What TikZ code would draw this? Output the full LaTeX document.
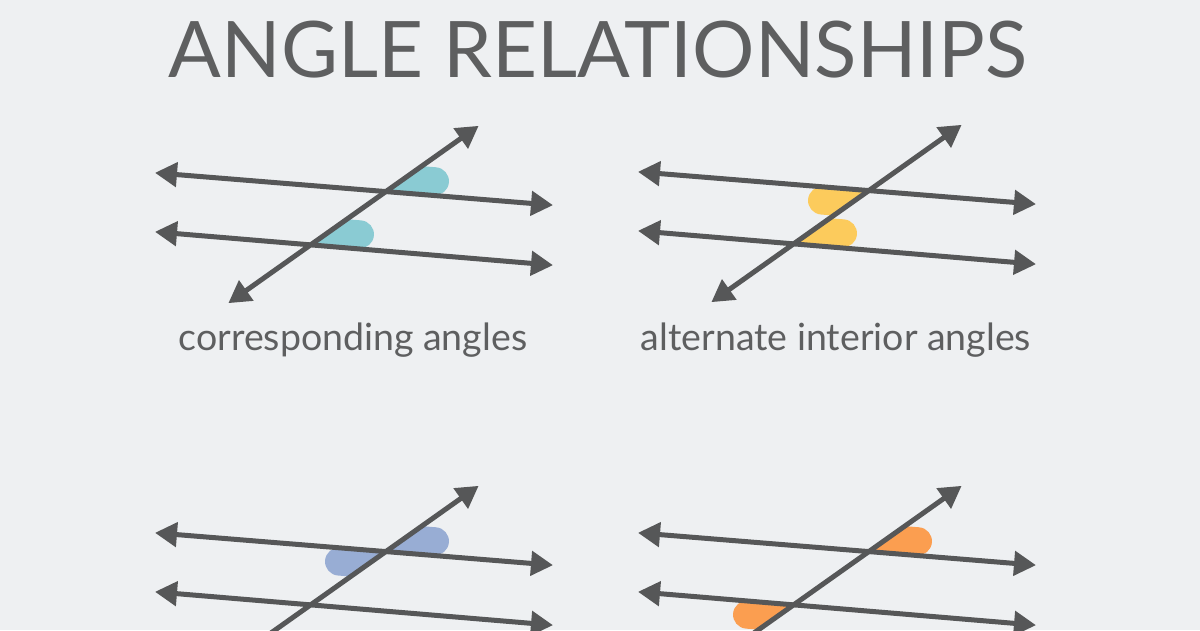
\documentclass[tikz,border=0pt]{standalone}
\usepackage{fontspec}
\setmainfont{Lato}
\usetikzlibrary{arrows.meta}
\definecolor{bg}{HTML}{EEF0F2}
\definecolor{ln}{HTML}{565758}
\definecolor{txt}{HTML}{5E5F60}
\definecolor{cyan}{HTML}{8ACBD3}
\definecolor{yel}{HTML}{FCCB5C}
\definecolor{blu}{HTML}{98ADD4}
\definecolor{ora}{HTML}{FB9E50}
\tikzset{
  ray/.style={draw=ln,line width=5pt,{Triangle[length=22pt,width=24pt]}-{Triangle[length=22pt,width=24pt]},shorten <=-2pt,shorten >=-2pt},
  lbl/.style={text=txt,font=\fontsize{37.5}{44}\selectfont,inner sep=0pt}
}
\newcommand\angl[3]{%
  \begin{scope}[shift={(#1)},rotate=#2]
  \clip (0,0)--(100,0)--(39.9:100)--cycle;
  \fill[#3] (-10,0)--(47,0) arc[start angle=-90,end angle=90,radius=14]--(-10,28)--cycle;
  \end{scope}}
% #1 name, #2 xshift, #3 yshift
\newcommand\diag[3]{%
  \begin{scope}[shift={(#2,#3)}]
  \coordinate (#1la) at (157,457); \coordinate (#1lb) at (551,425);
  \coordinate (#1ma) at (157,398); \coordinate (#1mb) at (551,365);
  \coordinate (#1ta) at (230,328); \coordinate (#1tb) at (477,503);
  \coordinate (#1i) at (387,438.6); \coordinate (#1j) at (312,385.5);
  \end{scope}}
\begin{document}
\begin{tikzpicture}[x=1pt,y=1pt]
\clip (0,0) rectangle (1200,630);
\fill[bg] (0,0) rectangle (1200,630);
\node[text=txt,font=\fontsize{78}{90}\selectfont,inner sep=0pt] (title) at (598,580) {ANGLE RELATIONSHIPS};
\diag{a}{0}{0}
\diag{b}{483}{1}
\diag{c}{0}{-360}
\diag{d}{483}{-360}
% angles
\angl{ai}{-4.64}{cyan}\angl{aj}{-4.64}{cyan}
\angl{bi}{175.36}{yel}\angl{bj}{-4.64}{yel}
\angl{ci}{-4.64}{blu}\angl{ci}{175.36}{blu}
\angl{di}{-4.64}{ora}\angl{dj}{175.36}{ora}
\foreach \n in {a,b,c,d}{
  \draw[ray] (\n la) -- (\n lb);
  \draw[ray] (\n ma) -- (\n mb);
  \draw[ray] (\n ta) -- (\n tb);
}
\node[lbl] (l1) at (353,290) {corresponding angles};
\node[lbl] (l2) at (836,290) {alternate interior angles};
\end{tikzpicture}
\end{document}
